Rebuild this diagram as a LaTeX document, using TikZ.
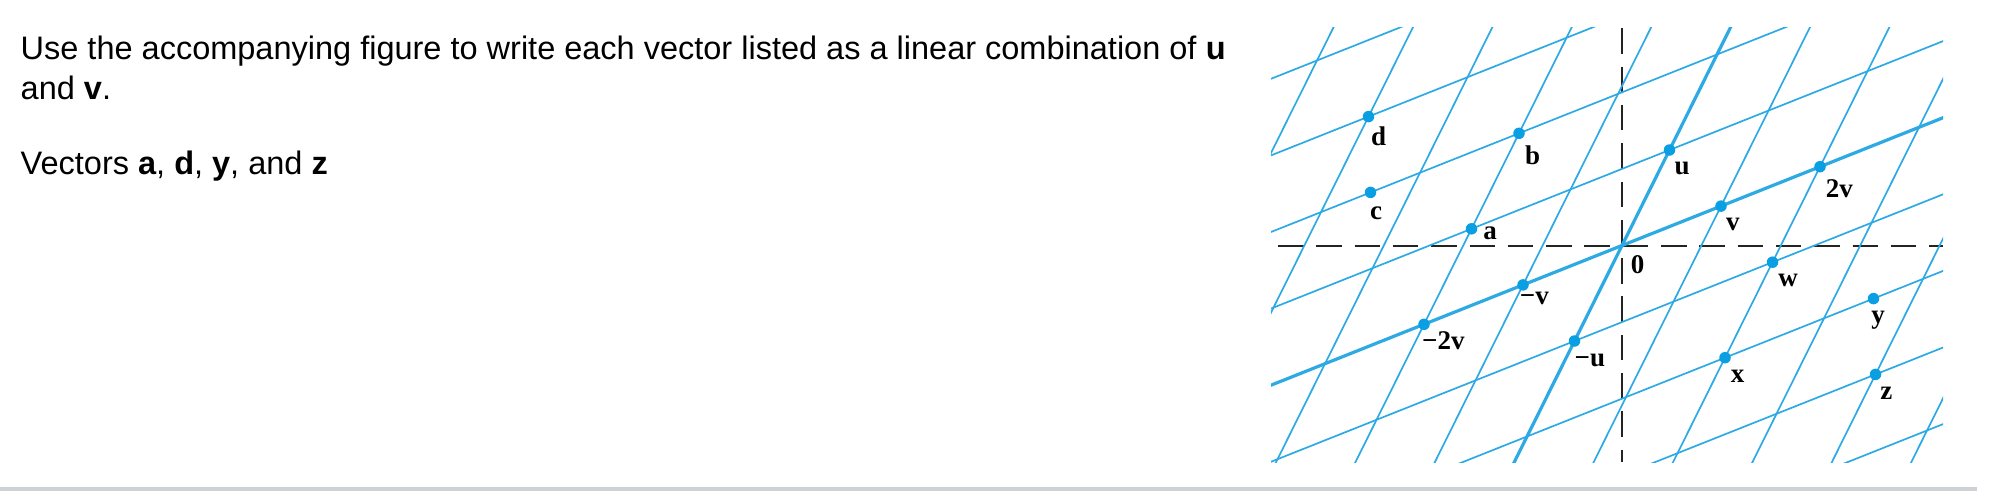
\documentclass[tikz,border=0pt]{standalone}
\usepackage{fontspec}
\setmainfont{Liberation Sans}
\newfontfamily\lblfont{Liberation Serif}
\usetikzlibrary{calc}
\definecolor{gridblue}{RGB}{45,170,228}
\definecolor{dotblue}{RGB}{10,158,226}
\definecolor{axisgray}{RGB}{35,35,35}
\definecolor{rulegray}{RGB}{206,209,214}
\begin{document}
\begin{tikzpicture}[x=1pt,y=-1pt,
  gridline/.style={gridblue, line width=1.7pt},
  mainline/.style={gridblue, line width=3.2pt},
  axisline/.style={axisgray, line width=2pt, dash pattern=on 25.5pt off 12.8pt},
  vdot/.style={circle, fill=dotblue, inner sep=0pt, minimum size=11.5pt},
  vlabel/.style={font=\lblfont\bfseries\fontsize{27}{27}\selectfont, inner sep=0pt, anchor=base west},
  bodytext/.style={font=\fontsize{32.5}{40}\selectfont, inner sep=0pt, anchor=base west}]
\useasboundingbox (0,0) rectangle (1991,503);

% question text
\node[bodytext] (line1) at (20.5,59.3) {Use the accompanying figure to write each vector listed as a linear combination of \textbf{u}};
\node[bodytext] (line2) at (20.5,99.3) {and \textbf{v}.};
\node[bodytext] (line3) at (20.5,174) {Vectors \textbf{a}, \textbf{d}, \textbf{y}, and \textbf{z}};

% separator rule
\draw[rulegray, line width=3.3pt] (0,489) -- (1977,489);

% lattice
\coordinate (O) at (1622,245.5);
\coordinate (U) at (47.5,-95.5);
\coordinate (V) at (99,-39.4);

% axes
\draw[axisline] (1278,245.5) -- (1943,245.5);
\draw[axisline] (1622,28.3) -- (1622,462);

\begin{scope}
  \clip (1271,28) rectangle (1943,462);
  \foreach \k in {-8,...,8} {
    \draw[gridline] (O) ++({\k*99-8*47.5},{-\k*39.4+8*95.5}) -- ++({16*47.5},{-16*95.5});
  }
  \foreach \k in {-8,...,8} {
    \draw[gridline] (O) ++({\k*47.5-8*99},{-\k*95.5+8*39.4}) -- ++({16*99},{-16*39.4});
  }
  \draw[mainline] (O) ++({-8*47.5},{8*95.5}) -- ++({16*47.5},{-16*95.5});
  \draw[mainline] (O) ++({-8*99},{8*39.4}) -- ++({16*99},{-16*39.4});
\end{scope}

% points
\node[vdot] (dd)   at ($(O)+3*(U)-4*(V)$) {};
\node[vdot] (db)   at ($(O)+2*(U)-2*(V)$) {};
\node[vdot] (dc)   at ($(O)+2*(U)-3.5*(V)$) {};
\node[vdot] (da)   at ($(O)+1*(U)-2*(V)$) {};
\node[vdot] (du)   at ($(O)+1*(U)$) {};
\node[vdot] (dv)   at ($(O)+1*(V)$) {};
\node[vdot] (d2v)  at ($(O)+2*(V)$) {};
\node[vdot] (dmv)  at ($(O)-1*(V)$) {};
\node[vdot] (dm2v) at ($(O)-2*(V)$) {};
\node[vdot] (dmu)  at ($(O)-1*(U)$) {};
\node[vdot] (dw)   at ($(O)-1*(U)+2*(V)$) {};
\node[vdot] (dx)   at ($(O)-2*(U)+2*(V)$) {};
\node[vdot] (dy)   at ($(O)-2*(U)+3.5*(V)$) {};
\node[vdot] (dz)   at ($(O)-3*(U)+4*(V)$) {};

% labels
\node[vlabel] (ld)   at ($(dd.center)+(2.3,29.3)$) {d};
\node[vlabel] (lb)   at ($(db.center)+(6,31)$) {b};
\node[vlabel] (lc)   at ($(dc.center)+(-0.7,26.7)$) {c};
\node[vlabel] (la)   at ($(da.center)+(11.6,10.7)$) {a};
\node[vlabel] (lu)   at ($(du.center)+(5,24.3)$) {u};
\node[vlabel] (lv)   at ($(dv.center)+(5,24)$) {v};
\node[vlabel] (l2v)  at ($(d2v.center)+(5.7,31)$) {2v};
\node[vlabel] (lmv)  at ($(dmv.center)+(-3.3,20)$) {−v};
\node[vlabel] (lm2v) at ($(dm2v.center)+(-2,25)$) {−2v};
\node[vlabel] (lmu)  at ($(dmu.center)+(0,25.3)$) {−u};
\node[vlabel] (l0)   at ($(O)+(8.7,27.8)$) {0};
\node[vlabel] (lw)   at ($(dw.center)+(5.6,24)$) {w};
\node[vlabel] (ly)   at ($(dy.center)+(-2.3,25)$) {y};
\node[vlabel] (lx)   at ($(dx.center)+(5.7,24.4)$) {x};
\node[vlabel] (lz)   at ($(dz.center)+(4.6,25)$) {z};
\end{tikzpicture}
\end{document}
